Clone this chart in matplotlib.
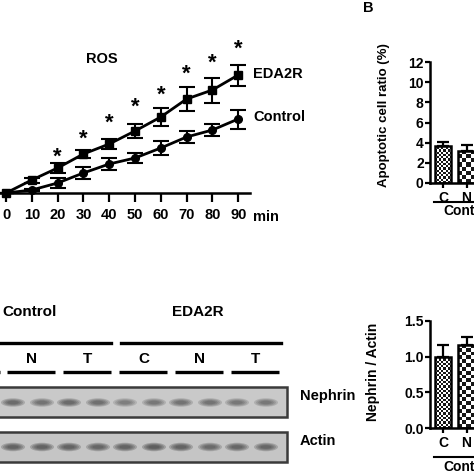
import numpy as np
import matplotlib
matplotlib.use("Agg")
import matplotlib.pyplot as plt
from matplotlib.patches import Rectangle, Ellipse

plt.rcParams['font.family'] = ['Liberation Sans', 'DejaVu Sans']
plt.rcParams['font.weight'] = 'bold'
plt.rcParams['axes.labelweight'] = 'bold'

# ---- data ----
# A: ROS time course (arbitrary units)
minutes = [0, 10, 20, 30, 40, 50, 60, 70, 80, 90]
eda2r_ros = [0, 13, 25, 39, 49, 62, 76, 94, 103, 118]
eda2r_err = [0, 2.5, 5, 4, 5, 7, 9, 12, 12.5, 10.5]
control_ros = [0, 3, 10, 20, 29, 35, 45, 56, 63, 74]
control_err = [0, 1, 5, 6, 6, 5, 7, 6, 6, 9.5]
star_minutes = [20, 30, 40, 50, 60, 70, 80, 90]
star_height = [42, 60, 76, 92, 104, 125, 136, 150]

# B: apoptotic cell ratio (%), Control group
apop_labels = ["C", "N"]
apop_mean = [3.7, 3.2]
apop_err = [0.4, 0.55]

# D: Nephrin / Actin, Control group
neph_labels = ["C", "N"]
neph_mean = [1.0, 1.17]
neph_err = [0.16, 0.11]

# C: western blot lanes (Control C,N,T then EDA2R C,N,T; two lanes each)
blot_groups = ["C", "N", "T", "C", "N", "T"]
nephrin_band = [0.7, 0.7, 0.75, 0.65, 0.75, 0.7, 0.55, 0.6, 0.65, 0.65, 0.6, 0.6]
actin_band = [0.8, 0.8, 0.85, 0.85, 0.85, 0.8, 0.85, 0.9, 0.85, 0.75, 0.8, 0.8]

W = H = 474
fig = plt.figure(figsize=(4.74, 4.74), dpi=100)


def px_axes(left, top, right, bottom, **kw):
    return fig.add_axes([left / W, 1 - bottom / H, (right - left) / W, (bottom - top) / H], **kw)


def fig_text(x, y, s, **kw):
    fig.text(x / W, 1 - y / H, s, **kw)


# ---------------- A: ROS ----------------
axA = px_axes(0, 20, 250, 193)
px_per_min = 2.58
axA.set_xlim(-6 / px_per_min, 244 / px_per_min)
axA.set_ylim(0, 173)
for s in ["left", "top", "right"]:
    axA.spines[s].set_visible(False)
axA.spines["bottom"].set_linewidth(1.8)
axA.set_yticks([])
axA.set_xticks(minutes)
axA.set_xticklabels([str(m) for m in minutes])
axA.tick_params(axis="x", length=6.5, width=1.6, pad=4, labelsize=10.5)
axA.errorbar(minutes, eda2r_ros, yerr=eda2r_err, color="black", lw=2,
             marker="s", ms=6, capsize=5.5, elinewidth=1.5, capthick=1.5, clip_on=False)
axA.errorbar(minutes, control_ros, yerr=control_err, color="black", lw=2,
             marker="o", ms=5.5, capsize=5.5, elinewidth=1.5, capthick=1.5, clip_on=False)
for m, h in zip(star_minutes, star_height):
    axA.text(m, h - 12, "*", ha="center", va="baseline", fontsize=16)
fig_text(102, 59, "ROS", ha="center", va="center", fontsize=10.5)
fig_text(253, 74, "EDA2R", ha="left", va="center", fontsize=10.5)
fig_text(253, 117, "Control", ha="left", va="center", fontsize=10.5)
fig_text(253, 217, "min", ha="left", va="center", fontsize=10.5)


# ---------------- checker-filled bars ----------------
def checker_bars(ax, means, errs, labels, cells):
    xs = np.arange(1, len(means) + 1)
    bars = ax.bar(xs, means, width=0.72, facecolor="none", edgecolor="black",
                  linewidth=1.8, zorder=3)
    ax.errorbar(xs, means, yerr=[np.zeros(len(errs)), errs], fmt="none",
                ecolor="black", elinewidth=1.6, capsize=4.5, capthick=1.6, zorder=2)
    fig.canvas.draw()
    for bar, c in zip(bars, cells):
        x0, y0 = bar.get_x(), 0
        x1, y1 = x0 + bar.get_width(), bar.get_height()
        p0 = ax.transData.transform((x0, y0))
        p1 = ax.transData.transform((x1, y1))
        nx = max(1, int(round((p1[0] - p0[0]) / c)))
        ny = max(1, int(round((p1[1] - p0[1]) / c)))
        board = (np.add.outer(np.arange(ny), np.arange(nx)) % 2).astype(float)
        im = ax.imshow(board, cmap="gray", extent=(x0, x1, y0, y1), origin="lower",
                       interpolation="nearest", aspect="auto", zorder=2.5,
                       vmin=-0.1, vmax=1.0)
        im.set_clip_path(bar)
    ax.set_xticks(xs)
    ax.set_xticklabels(labels)
    return xs


def style_bar_axes(ax):
    for s in ["top", "right"]:
        ax.spines[s].set_visible(False)
    ax.spines["left"].set_linewidth(1.8)
    ax.spines["bottom"].set_linewidth(1.8)
    ax.tick_params(axis="y", length=3.5, width=1.6, pad=1, labelsize=10)
    ax.tick_params(axis="x", length=3.5, width=1.6, pad=2, labelsize=10)


def group_line(ax, y_line, y_text, label, bottom, height):
    tr = ax.get_xaxis_transform()
    ax.plot([0.62, 3.4], [(bottom - y_line) / height] * 2, color="black", lw=1.5,
            transform=tr, clip_on=False)
    ax.text(2.05, (bottom - y_text) / height, label, transform=tr, ha="center",
            va="center", fontsize=10)


bar_px = 23.5
x_low = 1 - 13 / bar_px

# B
axB = px_axes(430, 62, 530, 183)
axB.set_xlim(x_low, x_low + 100 / bar_px)
axB.set_ylim(0, 12)
axB.set_yticks([0, 2, 4, 6, 8, 10, 12])
style_bar_axes(axB)
checker_bars(axB, apop_mean, apop_err, apop_labels, [2.2, 3.8])
axB.set_xlim(x_low, x_low + 100 / bar_px)
axB.set_ylim(0, 12)
axB.set_ylabel("Apoptotic cell ratio (%)", fontsize=9.5)
axB.yaxis.set_label_coords(-0.40, 0.56)
group_line(axB, 202, 211, "Control", 183, 121)
fig_text(368, 8, "B", ha="center", va="center", fontsize=10.5)

# D
axD = px_axes(430, 321, 530, 428)
axD.set_xlim(x_low, x_low + 100 / bar_px)
axD.set_ylim(0, 1.5)
axD.set_yticks([0, 0.5, 1.0, 1.5])
axD.set_yticklabels(["0.0", "0.5", "1.0", "1.5"])
style_bar_axes(axD)
checker_bars(axD, neph_mean, neph_err, neph_labels, [2.2, 3.8])
axD.set_xlim(x_low, x_low + 100 / bar_px)
axD.set_ylim(0, 1.5)
axD.set_ylabel("Nephrin / Actin", fontsize=10)
axD.yaxis.set_label_coords(-0.50, 0.52)
group_line(axD, 457, 467, "Control", 428, 107)

# ---------------- C: western blot ----------------
axC = fig.add_axes([0, 0, 1, 1], zorder=-1)
axC.set_xlim(0, W)
axC.set_ylim(H, 0)
axC.axis("off")

group_x = 27.5 + 56 * (np.arange(len(blot_groups)) - 1)
lane_x = np.ravel([[g - 14.5, g + 14.5] for g in group_x])

rows = [(387, 417, 402.5, nephrin_band, "#c9c9c9", "Nephrin", 396),
        (432, 462, 447, actin_band, "#c5c5c5", "Actin", 441)]
for top, bot, yc, vals, bg, name, ylab in rows:
    axC.add_patch(Rectangle((-5, top), 292, bot - top, facecolor=bg,
                            edgecolor="#3a3a3a", lw=1.8))
    for x, v in zip(lane_x, vals):
        for sc in [1.0, 0.8, 0.6, 0.4]:
            axC.add_patch(Ellipse((x, yc), 21 * sc + 3, 8.5 * sc, facecolor="#383838",
                                  edgecolor="none", alpha=v * 0.3))
    axC.text(300, ylab, name, ha="left", va="center", fontsize=10.5)

for i, g in enumerate(blot_groups):
    gx = group_x[i] + 3
    axC.plot([gx - 23, gx + 25], [372, 372], color="black", lw=2.4, solid_capstyle="butt")
    if gx > 0:
        axC.text(gx + 1, 359, g, ha="center", va="center", fontsize=11)
axC.plot([group_x[0] - 30, group_x[2] + 28], [343, 343], color="black", lw=2.4)
axC.plot([group_x[3] - 18, group_x[5] + 30], [343, 343], color="black", lw=2.4)
axC.text(group_x[1] + 2, 312, "Control", ha="center", va="center", fontsize=11)
axC.text(group_x[4] + 2, 312, "EDA2R", ha="center", va="center", fontsize=11)

fig.savefig("out.png", dpi=100)
